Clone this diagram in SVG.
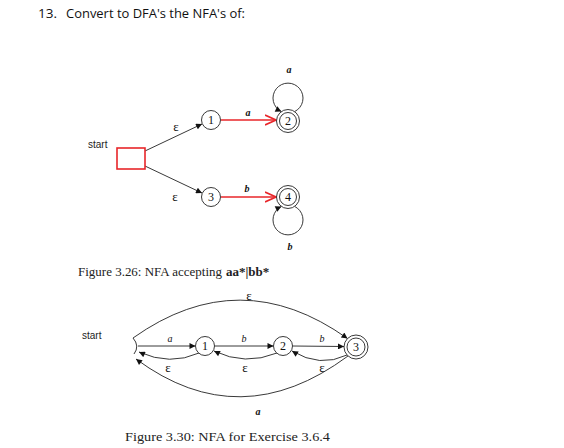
<svg xmlns="http://www.w3.org/2000/svg" width="564" height="448" viewBox="0 0 564 448">
<style>
.ln{fill:none;stroke:#222;stroke-width:0.9}
.rd{fill:none;stroke:#e8262a;stroke-width:1.6}
.st{fill:#fff;stroke:#222;stroke-width:0.9}
.nt{font-family:"Liberation Serif",serif;font-size:12px;fill:#111;text-anchor:middle}
.lb{font-family:"Liberation Serif",serif;font-size:10px;font-style:italic;fill:#111;text-anchor:middle}
.ep{font-family:"Liberation Serif",serif;font-size:13px;fill:#111;text-anchor:middle}
.ss{font-family:"Liberation Sans",Arial,sans-serif;font-size:10px;fill:#222}
.cap{font-family:"Liberation Serif",serif;font-size:13px;fill:#222}
.ttl{font-family:"Open Sans","Liberation Sans",sans-serif;font-size:13.5px;fill:#111}
</style>
<defs>
<marker id="ah" viewBox="0 0 10 10" refX="10" refY="5" markerWidth="8" markerHeight="6" markerUnits="userSpaceOnUse" orient="auto"><path d="M0,0 L10,5 L0,10 z" fill="#111"/></marker>
<marker id="rv" viewBox="0 0 12 12" refX="11" refY="6" markerWidth="12" markerHeight="12" markerUnits="userSpaceOnUse" orient="auto"><path d="M0,1 L11,6 L0,11" fill="none" stroke="#e8262a" stroke-width="1.6"/></marker>
</defs>
<rect width="564" height="448" fill="#fff"/>
<text class="ttl" x="38" y="18">13.</text>
<text class="ttl" x="66" y="18" textLength="179" lengthAdjust="spacingAndGlyphs">Convert to DFA's the NFA's of:</text>

<!-- Figure 3.26 -->
<g id="connectors1">
<line class="ln" x1="145" y1="151" x2="202" y2="124" marker-end="url(#ah)"/>
<line class="ln" x1="145" y1="166" x2="202" y2="193" marker-end="url(#ah)"/>
<line class="rd" x1="221" y1="120" x2="276" y2="120" marker-end="url(#rv)"/>
<line class="rd" x1="221" y1="197" x2="276" y2="197" marker-end="url(#rv)"/>
<path class="ln" d="M294.6,111.6 A15,15 0 1 0 281.4,111.6" marker-end="url(#ah)"/>
<path class="ln" d="M294.6,206.4 A15,15 0 1 1 281.4,206.4" marker-end="url(#ah)"/>
<text class="ep" x="176" y="131">ε</text>
<text class="ep" x="175" y="201">ε</text>
<text class="lb" x="248" y="116" font-weight="bold">a</text>
<text class="lb" x="247" y="192" font-weight="bold">b</text>
<text class="lb" x="289" y="73" font-weight="bold">a</text>
<text class="lb" x="290" y="250" font-weight="bold">b</text>
</g>
<text class="ss" x="88" y="148">start</text>
<g id="s0"><rect x="117" y="148" width="28" height="21" fill="#fff" stroke="#e8262a" stroke-width="1.6"/></g>
<g id="s1"><circle class="st" cx="211" cy="120" r="9.5"/><text class="nt" x="211" y="124">1</text></g>
<g id="s2"><circle class="st" cx="288" cy="121" r="11.5"/><circle class="st" cx="288" cy="121" r="8.5"/><text class="nt" x="288" y="125">2</text></g>
<g id="s3"><circle class="st" cx="211" cy="197" r="9.5"/><text class="nt" x="211" y="201">3</text></g>
<g id="s4"><circle class="st" cx="288" cy="197" r="11.5"/><circle class="st" cx="288" cy="197" r="8.5"/><text class="nt" x="288" y="201">4</text></g>
<text class="cap" x="78" y="276" textLength="144" lengthAdjust="spacingAndGlyphs">Figure 3.26:  NFA  accepting</text>
<text class="cap" x="226" y="276" font-weight="bold" font-size="12">aa*|bb*</text>

<!-- Figure 3.30 -->
<g id="connectors2">
<path class="ln" d="M133,338 Q140,346 134,354"/>
<path class="ln" d="M133,338 Q240,262 347.5,338.5" marker-end="url(#ah)"/>
<path class="ln" d="M348,356 Q240,436 136,359" marker-end="url(#ah)"/>
<line class="ln" x1="138" y1="346" x2="195.5" y2="346" marker-end="url(#ah)"/>
<line class="ln" x1="214.5" y1="346" x2="273.5" y2="346" marker-end="url(#ah)"/>
<line class="ln" x1="292.5" y1="346" x2="344" y2="346.5" marker-end="url(#ah)"/>
<path class="ln" d="M199,353 Q170,366 139,352" marker-end="url(#ah)"/>
<path class="ln" d="M277,353 Q245,366 214,351" marker-end="url(#ah)"/>
<path class="ln" d="M347,355 Q320,368 292,351" marker-end="url(#ah)"/>
<text class="ep" x="249" y="300">ε</text>
<text class="lb" x="170" y="342" font-size="11">a</text>
<text class="lb" x="244" y="342" font-size="11">b</text>
<text class="lb" x="322" y="342" font-size="11">b</text>
<text class="ep" x="168" y="372">ε</text>
<text class="ep" x="245" y="372">ε</text>
<text class="ep" x="322" y="372">ε</text>
<text class="lb" x="258" y="415" font-weight="bold">a</text>
</g>
<text class="ss" x="82" y="339">start</text>
<g id="t1"><circle class="st" cx="205" cy="346" r="9.5"/><text class="nt" x="205" y="350">1</text></g>
<g id="t2"><circle class="st" cx="283" cy="346" r="9.5"/><text class="nt" x="283" y="350">2</text></g>
<g id="t3"><circle class="st" cx="356" cy="347" r="12"/><circle class="st" cx="356" cy="347" r="9"/><text class="nt" x="356" y="351">3</text></g>
<text class="cap" x="125" y="441" textLength="205" lengthAdjust="spacingAndGlyphs">Figure 3.30:  NFA  for  Exercise  3.6.4</text>
</svg>
